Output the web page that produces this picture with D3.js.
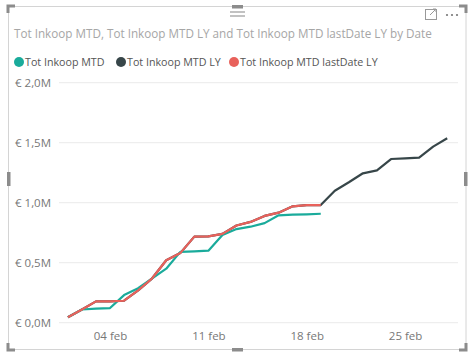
<!DOCTYPE html>
<html><head><meta charset="utf-8">
<script src="https://cdn.jsdelivr.net/npm/d3@7"></script>
<style>
html,body{margin:0;padding:0;background:#fff;}
svg{display:block;font-family:"Open Sans","Noto Sans",sans-serif;}
</style></head>
<body><svg id="c" width="474" height="357"></svg>
<script>
const title = "Tot Inkoop MTD, Tot Inkoop MTD LY and Tot Inkoop MTD lastDate LY by Date";
const seriesNames = ["Tot Inkoop MTD", "Tot Inkoop MTD LY", "Tot Inkoop MTD lastDate LY"];
const seriesColors = ["#1aab9b", "#374649", "#e8615b"];
const days = d3.range(1, 29); // 1..28 feb
const mtd = [0.045,0.11,0.117,0.122,0.23,0.287,0.37,0.45,0.59,0.595,0.60,0.73,0.78,0.80,0.83,0.895,0.90,0.903,0.908];
const ly = [0.045,0.11,0.178,0.178,0.183,0.27,0.37,0.52,0.58,0.717,0.72,0.74,0.81,0.84,0.89,0.917,0.97,0.98,0.98,1.10,1.17,1.245,1.27,1.364,1.37,1.375,1.467,1.537];
const lastDateLy = [0.045,0.11,0.178,0.178,0.183,0.27,0.37,0.52,0.58,0.717,0.72,0.74,0.81,0.84,0.89,0.917,0.97,0.98,0.98];
const yTicks = [0, 0.5, 1.0, 1.5, 2.0];
const xTickDays = [4, 11, 18, 25];

const svg = d3.select("#c");
// frame
svg.append("rect").attr("x",8.5).attr("y",6.5).attr("width",457.5).attr("height",343).attr("fill","#fff").attr("stroke","#d4d4d4").attr("stroke-width",1);
const hc = "#8c8c8c";
// corners
[[8,6,1,1],[466,6,-1,1],[8,350,1,-1],[466,350,-1,-1]].forEach(([x,y,sx,sy])=>{
  svg.append("path").attr("d",`M${x},${y+sy*7}L${x},${y}L${x+sx*7},${y}`).attr("fill","none").attr("stroke",hc).attr("stroke-width",3);
});
// side handles
svg.append("rect").attr("x",232).attr("y",5).attr("width",11).attr("height",3.5).attr("fill",hc);
svg.append("rect").attr("x",232).attr("y",348).attr("width",11).attr("height",3.5).attr("fill",hc);
svg.append("rect").attr("x",7).attr("y",172).attr("width",3.5).attr("height",14).attr("fill",hc);
svg.append("rect").attr("x",464).attr("y",172).attr("width",3.5).attr("height",14).attr("fill",hc);
// hamburger
[12,16].forEach(y=>svg.append("line").attr("x1",230).attr("x2",245).attr("y1",y).attr("y2",y).attr("stroke","#9a9a9a").attr("stroke-width",1.2));
// expand icon
svg.append("rect").attr("x",425.5).attr("y",9.5).attr("width",11).attr("height",10).attr("fill","none").attr("stroke","#999").attr("stroke-width",1);
svg.append("path").attr("d","M430,15L436,9M433,9L436,9L436,12").attr("fill","none").attr("stroke","#999").attr("stroke-width",1);
// dots
[447,452,457].forEach(x=>svg.append("circle").attr("cx",x).attr("cy",15).attr("r",1.1).attr("fill","#777"));

// title
svg.append("text").attr("x",14).attr("y",38).attr("font-size",11.7).attr("fill","#a6a6a6").text(title);

// legend
const legX = [19, 121, 234];
seriesNames.forEach((n,i)=>{
  svg.append("circle").attr("cx",legX[i]).attr("cy",62).attr("r",5).attr("fill",seriesColors[i]);
  svg.append("text").attr("x",legX[i]+6).attr("y",66).attr("font-size",10.7).attr("fill","#555").text(n);
});

// scales
const x = d3.scaleLinear().domain([1,28]).range([67.9, 447.2]);
const y = d3.scaleLinear().domain([0,2]).range([322.7, 82.7]);

// grid
const g = svg.append("g");
g.selectAll("line.grid").data(yTicks).join("line")
  .attr("x1",59).attr("x2",458).attr("y1",d=>y(d)).attr("y2",d=>y(d))
  .attr("stroke","#ebebeb").attr("stroke-width",1);
const fmt = d => "€ " + d.toFixed(1).replace(".", ",") + "M";
g.selectAll("text.yl").data(yTicks).join("text")
  .attr("x",15).attr("y",d=>y(d)+4).attr("font-size",11.5).attr("fill","#777").text(fmt);

// x axis
const xa = svg.append("g").attr("transform","translate(0,323)")
  .call(d3.axisBottom(x).tickValues(xTickDays).tickSize(0).tickPadding(9).tickFormat(d=>d3.format("02")(d)+" feb"));
xa.select(".domain").remove();
xa.selectAll("text").attr("font-size",11.5).attr("fill","#777").attr("font-family","'Open Sans','Noto Sans',sans-serif");

// lines
const line = d3.line().x((d,i)=>x(days[i])).y(d=>y(d));
const data = [ly, mtd, lastDateLy];
const cols = [seriesColors[1], seriesColors[0], seriesColors[2]];
data.forEach((s,i)=>{
  svg.append("path").attr("d",line(s)).attr("fill","none").attr("stroke",cols[i]).attr("stroke-width",2.2).attr("stroke-linejoin","round");
});
</script></body></html>
